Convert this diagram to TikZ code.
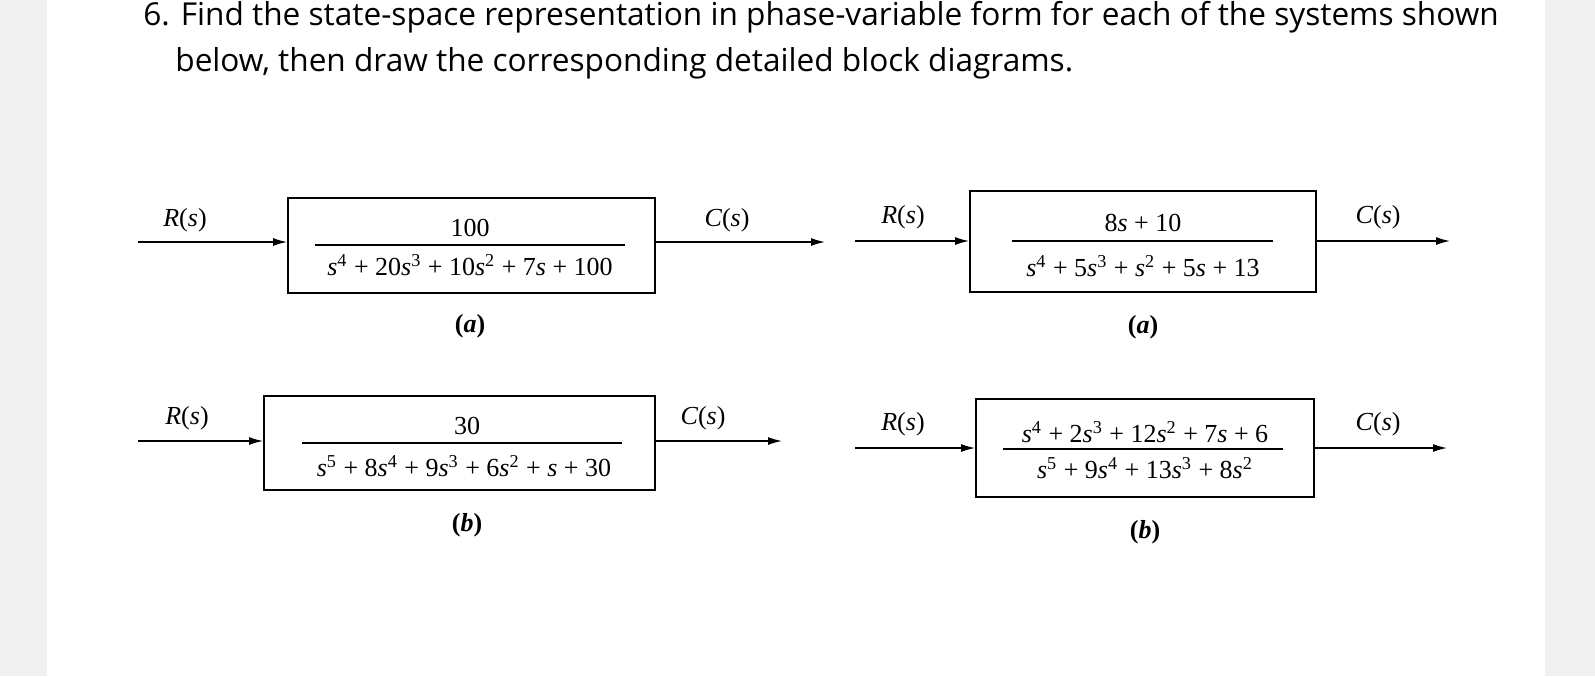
\documentclass[tikz,border=0pt]{standalone}
\usepackage{fontspec}
\setmainfont{Liberation Serif}
\newfontfamily\titlefont{Open Sans}
\usetikzlibrary{arrows.meta}
\newcommand{\spw}[1]{\textit{s}\textsuperscript{#1}}
\newcommand{\sv}{\textit{s}}
\begin{document}
\begin{tikzpicture}[x=0.5pt,y=-0.5pt,
  lbl/.style={font=\fontsize{13}{13}\selectfont},
  tf/.style={font=\fontsize{13}{13}\selectfont},
  blk/.style={draw,line width=0.9pt},
  sig/.style={line width=0.7pt,-{Latex[length=7pt,width=4pt]}},
  fl/.style={line width=0.6pt}]
\fill[gray!12] (0,0) rectangle (1595,676);
\fill[white] (47,0) rectangle (1545,676);
\useasboundingbox (0,0) rectangle (1595,676);
\node[anchor=west,inner sep=0pt,font=\titlefont\fontsize{15.8}{16}\selectfont] (t1) at (143,17) {6. Find the state-space representation in phase-variable form for each of the systems shown};
\node[anchor=west,inner sep=0pt,font=\titlefont\fontsize{15.8}{16}\selectfont] (t2) at (175,63) {below, then draw the corresponding detailed block diagrams.};
% top left
\node[blk,minimum width=183.5pt,minimum height=47.5pt] (b1) at (471.5,245.5) {};
\coordinate (i1) at (138,242); \coordinate (o1) at (825,242);
\draw[sig] (i1) -- (i1-|b1.west);
\draw[sig] (o1-|b1.east) -- (o1);
\node[lbl] (r1) at (185,220) {\textit{R}(\sv)};
\node[lbl] (c1) at (727,220) {\textit{C}(\sv)};
\node[tf] (n1) at (470,228) {100};
\node[tf] (d1) at (470,265) {\spw{4} + 20\spw{3} + 10\spw{2} + 7\sv{} + 100};
\draw[fl] (315,245) coordinate (f1a) -- (625,245) coordinate (f1b);
\node[lbl] (a1) at (470,326) {\textbf{(\textit{a})}};
% top right
\node[blk,minimum width=173pt,minimum height=50.5pt] (b2) at (1143,241.5) {};
\coordinate (i2) at (855,241); \coordinate (o2) at (1450,241);
\draw[sig] (i2) -- (i2-|b2.west);
\draw[sig] (o2-|b2.east) -- (o2);
\node[lbl] (r2) at (903,217) {\textit{R}(\sv)};
\node[lbl] (c2) at (1378,217) {\textit{C}(\sv)};
\node[tf] (n2) at (1143,223) {8\sv{} + 10};
\node[tf] (d2) at (1143,266) {\spw{4} + 5\spw{3} + \spw{2} + 5\sv{} + 13};
\draw[fl] (1012,241) coordinate (f2a) -- (1273,241) coordinate (f2b);
\node[lbl] (a2) at (1143,327) {\textbf{(\textit{a})}};
% bottom left
\node[blk,minimum width=195.5pt,minimum height=47pt] (b3) at (459.5,443) {};
\coordinate (i3) at (138,441); \coordinate (o3) at (782,441);
\draw[sig] (i3) -- (i3-|b3.west);
\draw[sig] (o3-|b3.east) -- (o3);
\node[lbl] (r3) at (187,418) {\textit{R}(\sv)};
\node[lbl] (c3) at (703,418) {\textit{C}(\sv)};
\node[tf] (n3) at (467,426) {30};
\node[tf] (d3) at (464,466) {\spw{5} + 8\spw{4} + 9\spw{3} + 6\spw{2} + \sv{} + 30};
\draw[fl] (302,443) coordinate (f3a) -- (622,443) coordinate (f3b);
\node[lbl] (a3) at (467,525) {\textbf{(\textit{b})}};
% bottom right
\node[blk,minimum width=169pt,minimum height=49pt] (b4) at (1145,448) {};
\coordinate (i4) at (855,448); \coordinate (o4) at (1447,448);
\draw[sig] (i4) -- (i4-|b4.west);
\draw[sig] (o4-|b4.east) -- (o4);
\node[lbl] (r4) at (903,424) {\textit{R}(\sv)};
\node[lbl] (c4) at (1378,424) {\textit{C}(\sv)};
\node[tf] (n4) at (1145,432) {\spw{4} + 2\spw{3} + 12\spw{2} + 7\sv{} + 6};
\node[tf] (d4) at (1145,468) {\spw{5} + 9\spw{4} + 13\spw{3} + 8\spw{2}};
\draw[fl] (1003,449) coordinate (f4a) -- (1283,449) coordinate (f4b);
\node[lbl] (a4) at (1145,532) {\textbf{(\textit{b})}};
\end{tikzpicture}
\end{document}
